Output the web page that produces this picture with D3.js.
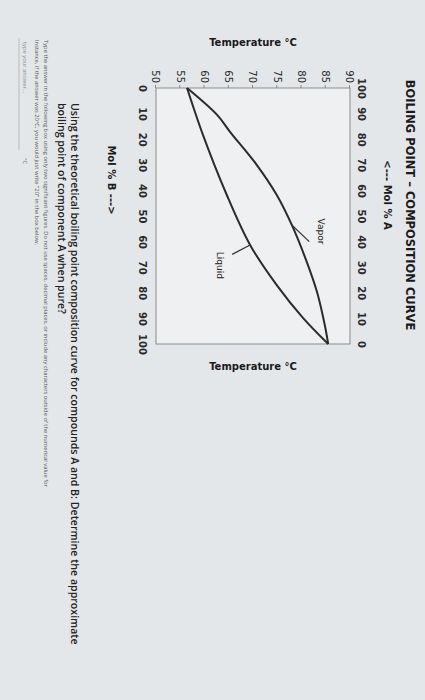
<!DOCTYPE html>
<html>
<head>
<meta charset="utf-8">
<script src="https://cdn.jsdelivr.net/npm/d3@7"></script>
<style>
  body { margin: 0; background: #e4e7ea; }
  svg { display: block; }
  .tick text { font-family: "DejaVu Sans", sans-serif; font-size: 10px; fill: #2a2a2a; }
  .tick line { stroke: #888; }
</style>
</head>
<body>
<svg id="chart" width="425" height="700"></svg>
<script>
// mol % A and temperature (°C)
var liquidA = [100, 81.6, 58.2, 38.7, 23.0, 10.2, 0]
var liquidT = [56.4, 59.7, 64.6, 69.4, 74.9, 80.3, 85.5]
var vaporA = [100, 89.5, 82.8, 69.9, 58.2, 46.5, 32.0, 20.3, 7.4, 0]
var vaporT = [56.4, 62.6, 65.3, 70.8, 74.9, 78.0, 81.1, 83.2, 84.8, 85.5]
var tempTicks = [50, 55, 60, 65, 70, 75, 80, 85, 90]
var molTicks = [0, 10, 20, 30, 40, 50, 60, 70, 80, 90, 100]

var svg = d3.select('#chart')

// the photo is turned a quarter; draw the chart in a rotated frame
var g = svg.append('g').attr('transform', 'translate(425,0) rotate(90)')

var x = d3.scaleLinear().domain([100, 0]).range([88, 344])
var xB = d3.scaleLinear().domain([0, 100]).range([88, 344])
var y = d3.scaleLinear().domain([50, 90]).range([269, 75])

g.append('rect')
  .attr('x', x(100)).attr('y', y(90))
  .attr('width', x(0) - x(100)).attr('height', y(50) - y(90))
  .attr('fill', '#eef0f2').attr('stroke', '#8a8a8a').attr('stroke-width', 1)

g.append('g').attr('transform', 'translate(' + x(100) + ',0)')
  .call(d3.axisLeft(y).tickValues(tempTicks).tickSize(3).tickPadding(2))
  .call(function (a) { a.select('.domain').remove() })

g.append('g').attr('transform', 'translate(0,' + (y(90) - 2) + ')')
  .call(d3.axisTop(x).tickValues(molTicks).tickSize(0).tickPadding(6))
  .call(function (a) { a.select('.domain').remove() })
  .selectAll('text').attr('font-weight', 'bold')

g.append('g').attr('transform', 'translate(0,' + (y(50) + 2) + ')')
  .call(d3.axisBottom(xB).tickValues(molTicks).tickSize(0).tickPadding(8))
  .call(function (a) { a.select('.domain').remove() })
  .selectAll('text').attr('font-weight', 'bold')

var line = d3.line().curve(d3.curveCatmullRom)

g.append('path')
  .attr('d', line(liquidA.map(function (a, i) { return [x(a), y(liquidT[i])] })))
  .attr('fill', 'none').attr('stroke', '#2b2b2b').attr('stroke-width', 2)
g.append('path')
  .attr('d', line(vaporA.map(function (a, i) { return [x(a), y(vaporT[i])] })))
  .attr('fill', 'none').attr('stroke', '#2b2b2b').attr('stroke-width', 2)

// pointers to the curve names
g.append('line').attr('x1', x(46.5)).attr('y1', y(78.0)).attr('x2', x(40)).attr('y2', y(81.6))
  .attr('stroke', '#333').attr('stroke-width', 1.2)
g.append('text').attr('x', x(49)).attr('y', y(83.4)).text('Vapor')
  .attr('font-family', 'DejaVu Sans, sans-serif').attr('font-size', 9).attr('fill', '#222')
g.append('line').attr('x1', x(38.7)).attr('y1', y(69.4)).attr('x2', x(35)).attr('y2', y(65.7))
  .attr('stroke', '#333').attr('stroke-width', 1.2)
g.append('text').attr('x', x(36)).attr('y', y(62.5)).text('Liquid')
  .attr('font-family', 'DejaVu Sans, sans-serif').attr('font-size', 9).attr('fill', '#222')

g.append('text').attr('x', 205).attr('y', 19).attr('text-anchor', 'middle')
  .attr('font-family', 'DejaVu Sans, sans-serif').attr('font-weight', 'bold').attr('font-size', 11.5)
  .attr('fill', '#1a1a1a').text('BOILING POINT – COMPOSITION CURVE')
g.append('text').attr('x', 195).attr('y', 41).attr('text-anchor', 'middle')
  .attr('font-family', 'DejaVu Sans, sans-serif').attr('font-weight', 'bold').attr('font-size', 10)
  .attr('fill', '#1a1a1a').text('<--- Mol % A')
g.append('text').attr('x', 180).attr('y', 317).attr('text-anchor', 'middle')
  .attr('font-family', 'DejaVu Sans, sans-serif').attr('font-weight', 'bold').attr('font-size', 10)
  .attr('fill', '#1a1a1a').text('Mol % B --->')

var q = g.append('g').attr('font-family', 'Open Sans, sans-serif').attr('fill', '#222')
q.append('text').attr('x', 103).attr('y', 354).attr('font-size', 10.6).attr('font-weight', 600)
  .text('Using the theoretical boiling point composition curve for compounds A and B: Determine the approximate')
q.append('text').attr('x', 103).attr('y', 367).attr('font-size', 10.6).attr('font-weight', 600)
  .text('boiling point of component A when pure?')
q.append('text').attr('x', 40).attr('y', 381).attr('font-size', 5.8).attr('fill', '#555')
  .text('Type the answer in the following box using only two significant figures. Do not use spaces, decimal places, or include any characters outside of the numerical value for')
q.append('text').attr('x', 40).attr('y', 390).attr('font-size', 5.8).attr('fill', '#555')
  .text('Instance, if the answer was 20°C, you would just write "20" in the box below.')
q.append('text').attr('x', 42).attr('y', 402).attr('font-size', 5.8).attr('fill', '#888').text('type your answer...')
q.append('text').attr('x', 158).attr('y', 402).attr('font-size', 5.8).attr('fill', '#666').text('°C')
q.append('line').attr('x1', 38).attr('x2', 150).attr('y1', 406).attr('y2', 406).attr('stroke', '#bbb')

// upright axis names, as in the photo
svg.append('text').attr('x', 253).attr('y', 46).attr('text-anchor', 'middle')
  .attr('font-family', 'DejaVu Sans, sans-serif').attr('font-weight', 'bold').attr('font-size', 10)
  .attr('fill', '#1a1a1a').text('Temperature °C')
svg.append('text').attr('x', 253).attr('y', 370).attr('text-anchor', 'middle')
  .attr('font-family', 'DejaVu Sans, sans-serif').attr('font-weight', 'bold').attr('font-size', 10)
  .attr('fill', '#1a1a1a').text('Temperature °C')
</script>
</body>
</html>
